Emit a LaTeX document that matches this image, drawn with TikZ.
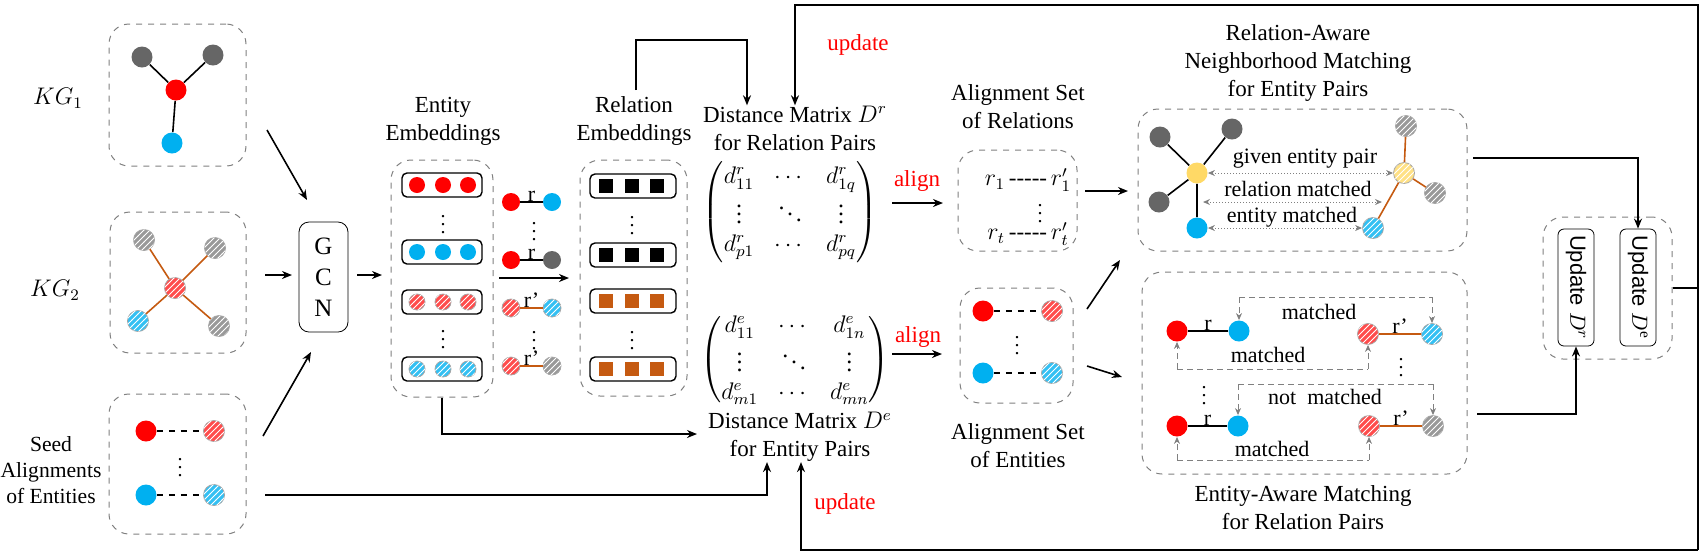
\documentclass[tikz,border=0pt]{standalone}
\usepackage{amsmath}
\usepackage{fontspec}
\setmainfont{Liberation Serif}
\newfontfamily\sansf{Liberation Sans}
\usetikzlibrary{arrows.meta,patterns,calc}
\definecolor{cred}{HTML}{FF0000}
\definecolor{cblue}{HTML}{00B0F0}
\definecolor{cgray}{HTML}{666666}
\definecolor{cyel}{HTML}{FFD966}
\definecolor{cbrown}{HTML}{C55A11}
\tikzset{
  en/.style={circle,inner sep=0pt,minimum size=#1},
  R/.style={en=#1,fill=cred}, R/.default=10.5pt,
  B/.style={en=#1,fill=cblue}, B/.default=10.5pt,
  G/.style={en=#1,fill=cgray}, G/.default=10.5pt,
  Y/.style={en=#1,fill=cyel}, Y/.default=10.5pt,
  hat/.style={draw=gray!70,line width=0.4pt,postaction={pattern=north east lines,pattern color=white}},
  hR/.style={en=#1,fill=cred!70,hat}, hR/.default=10.5pt,
  hB/.style={en=#1,fill=cblue!80,hat}, hB/.default=10.5pt,
  hG/.style={en=#1,fill=gray!80,hat}, hG/.default=10.5pt,
  hY/.style={en=#1,fill=cyel!80,hat}, hY/.default=10.5pt,
  dbox/.style={draw=gray,dashed,rounded corners=10pt,line width=0.5pt},
  bar/.style={draw,rounded corners=2.5pt,line width=0.7pt,minimum height=12pt},
  sq/.style={inner sep=0pt,minimum size=7pt},
  arr/.style={line width=0.8pt,-{Stealth[length=5pt,width=4pt]}},
  ln/.style={line width=0.8pt},
  gln/.style={gray,densely dashed,line width=0.5pt},
  garr/.style={gln,-{Stealth[length=3.5pt,width=3pt]}},
  gdarr/.style={gray,densely dotted,line width=0.5pt,{Stealth[length=3.5pt,width=3pt]}-{Stealth[length=3.5pt,width=3pt]}},
  lbl/.style={align=center,text=black,inner sep=0pt,font=\fontsize{11.5}{14}\selectfont},
  slbl/.style={align=center,text=black,inner sep=1pt,font=\fontsize{11}{12}\selectfont},
  upd/.style={text=cred,inner sep=0pt,font=\fontsize{11.5}{14}\selectfont},
  ubx/.style={draw,rounded corners=3pt,minimum width=58.5pt,minimum height=18pt,inner sep=1pt,rotate=-90,font=\sansf\fontsize{11}{13}\selectfont}
}
\begin{document}
\begin{tikzpicture}[x=0.5pt,y=-0.5pt]
\useasboundingbox (0,0) rectangle (1704,554);

% ---- left inputs
\node[lbl] (kg1) at (58,98) {$KG_1$};
\node[lbl] (kg2) at (55,290) {$KG_2$};
\node[lbl,font=\fontsize{10.8}{13}\selectfont] (seed) at (51,470) {Seed\\Alignments\\of Entities};

\node (b1) [dbox,minimum width=68.5pt,minimum height=71pt] at (177.5,95) {};
\node (g1a) [G] at (142,57) {};
\node (g1b) [G] at (213,55) {};
\node (r1) [R] at (176,90) {};
\node (bl1) [B] at (172,143) {};
\draw[ln] (g1a) -- (r1) -- (g1b) (r1) -- (bl1);

\node (b2) [dbox,minimum width=68pt,minimum height=70.5pt] at (178,282.5) {};
\node (r2) [hR] at (175,288) {};
\node (g2a) [hG] at (144,240) {};
\node (g2b) [hG] at (215,248) {};
\node (g2c) [hG] at (219,326) {};
\node (bl2) [hB] at (138,321) {};
\draw[cbrown,line width=0.8pt] (g2a) -- (r2) -- (g2b) (bl2) -- (r2) -- (g2c);

\node (b3) [dbox,minimum width=68.5pt,minimum height=70pt] at (177.5,464) {};
\node (s1) [R] at (146,431) {};
\node (s2) [hR] at (214,431) {};
\node (s3) [B] at (146,495) {};
\node (s4) [hB] at (214,495) {};
\node (sd) at (180,462) {$\vdots$};
\draw[dashed,line width=0.8pt] (s1) -- (s2) (s3) -- (s4);

% ---- GCN
\node (gcn) [draw,rounded corners=5pt,minimum width=24.5pt,minimum height=55pt,lbl,font=\fontsize{12.5}{15.5}\selectfont] at (323.5,277) {G\\C\\N};
\coordinate (a1) at (267,130);
\coordinate (a2) at (265,275);
\coordinate (a3) at (263,436);
\draw[arr] (a1) -- (307,200);
\draw[arr] (a2) -- (292,275);
\draw[arr] (a3) -- (311,352);

% ---- entity embeddings
\node[lbl] (eel) at (443,121) {Entity\\Embeddings};
\node (ebox) [dbox,minimum width=51pt,minimum height=118.5pt] at (442,278.5) {};
\coordinate (g0) at (357,275);
\draw[arr] (g0) -- (382,275);
\foreach \y/\s in {185/R,252/B,302/hR,369/hB}{
  \node[bar,minimum width=40pt] at (442,\y) {};
  \foreach \x in {417,443,468} \node[\s=8pt] at (\x,\y) {};
}
\node at (443,219) {$\vdots$};
\node at (443,334) {$\vdots$};

% ---- relation triples
\node (p1) [R=9pt] at (511,202) {};
\node (p2) [B=9pt] at (552,202) {};
\node (p3) [R=9pt] at (511,260) {};
\node (p4) [G=9pt] at (552,260) {};
\node (p5) [hR=9pt] at (511,308) {};
\node (p6) [hB=9pt] at (552,308) {};
\node (p7) [hR=9pt] at (511,366) {};
\node (p8) [hG=9pt] at (552,366) {};
\draw[ln] (p1) -- node[above=-1pt,slbl]{r} (p2);
\draw[ln] (p3) -- node[above=-1pt,slbl]{r} (p4);
\draw[cbrown,line width=0.8pt] (p5) -- node[above=-1pt,slbl]{r'} (p6);
\draw[cbrown,line width=0.8pt] (p7) -- node[above=-1pt,slbl]{r'} (p8);
\node at (534,226) {$\vdots$};
\node at (534,335) {$\vdots$};

% ---- relation embeddings
\node[lbl] (rel) at (634,121) {Relation\\Embeddings};
\node (rbox) [dbox,minimum width=53.5pt,minimum height=118pt] at (633.5,278) {};
\coordinate (m1) at (499,278);
\draw[arr] (m1) -- (569,278);
\foreach \y/\c in {186/black,255/black,301/cbrown,369/cbrown}{
  \node[bar,minimum width=43pt] at (633,\y) {};
  \foreach \x in {606,632,657} \node[sq,fill=\c] at (\x,\y) {};
}
\node at (632,220) {$\vdots$};
\node at (632,335) {$\vdots$};

% ---- distance matrices
\node[lbl] (drl) at (795,128) {Distance Matrix $D^r$\\for Relation Pairs};
\node[lbl,font=\fontsize{12}{14}\selectfont] (mr) at (790,212) {$\begin{pmatrix} d^r_{11} & \cdots & d^r_{1q}\\ \vdots & \ddots & \vdots\\ d^r_{p1} & \cdots & d^r_{pq}\end{pmatrix}$};
\node[lbl,font=\fontsize{12}{14}\selectfont] (me) at (795,360) {$\begin{pmatrix} d^e_{11} & \cdots & d^e_{1n}\\ \vdots & \ddots & \vdots\\ d^e_{m1} & \cdots & d^e_{mn}\end{pmatrix}$};
\node[lbl] (del) at (800,437) {Distance Matrix $D^e$\\for Entity Pairs};

\coordinate (t0) at (636,90);
\coordinate (t1) at (636,40);
\coordinate (t2) at (747,40);
\draw[arr] (t0) -- (t1) -- (t2) -- (t2 |- drl.north);
\coordinate (t3) at (442,434);
\draw[arr] (ebox.south) -- (t3) -- (697,434);
\coordinate (t4) at (265,495);
\coordinate (t5) at (767,495);
\draw[arr] (t4) -- (t5) -- (t5 |- del.south);

% ---- alignment sets
\node[lbl] (arl) at (1018,107) {Alignment Set\\of Relations};
\node (arbox) [dbox,minimum width=59.5pt,minimum height=50.5pt] at (1017.5,200.5) {};
\node[lbl] (ar1) at (1028,180) {$r_1$\,{-}{-}{-}{-}{-}\,$r'_1$};
\node at (1040,208) {$\vdots$};
\node[lbl] (ar2) at (1028,234) {$r_t$\,{-}{-}{-}{-}{-}\,$r'_t$};

\node (aebox) [dbox,minimum width=56.5pt,minimum height=57.5pt] at (1016.5,345.5) {};
\node (x1) [R] at (983,311) {};
\node (x2) [hR] at (1052,311) {};
\node (x3) [B] at (983,373) {};
\node (x4) [hB] at (1052,373) {};
\draw[dashed,line width=0.8pt] (x1) -- (x2) (x3) -- (x4);
\node at (1017,340) {$\vdots$};
\node[lbl] (ael) at (1018,446) {Alignment Set\\of Entities};

\coordinate (al1) at (892,203);
\coordinate (al2) at (892,354);
\draw[arr] (al1) -- (943,203);
\draw[arr] (al2) -- (942,354);
\node[upd] at (917,181) {align};
\node[upd] at (918,337) {align};

% ---- relation-aware neighborhood matching
\node[lbl] (nl) at (1298,63) {Relation-Aware\\Neighborhood Matching\\for Entity Pairs};
\node (nbox) [dbox,minimum width=164.5pt,minimum height=71pt] at (1302.5,180) {};
\node (n1) [G] at (1160,137) {};
\node (n2) [G] at (1232,129) {};
\node (n3) [G] at (1159,202) {};
\node (ny) [Y] at (1197,173) {};
\node (nb) [B] at (1197,228) {};
\node (my) [hY] at (1404,173) {};
\node (mg1) [hG] at (1406,126) {};
\node (mg2) [hG] at (1435,193) {};
\node (mb) [hB] at (1373,228) {};
\draw[ln] (n1) -- (ny) -- (n2) (n3) -- (ny) -- (nb);
\draw[cbrown,line width=0.8pt] (mg1) -- (my) -- (mg2) (my) -- (mb);
\draw[gdarr] (ny) -- (my);
\node[slbl] at (1305,159) {given entity pair};
\coordinate (rm1) at (1203,202);
\draw[gdarr] (rm1) -- (1382,202);
\node[slbl] at (1298,189) {relation matched};
\draw[gdarr] (nb) -- (mb);
\node[slbl] at (1292,217) {entity matched};

\coordinate (k1) at (1085,191);
\draw[arr] (k1) -- (1128,191);
\coordinate (k2) at (1087,309);
\draw[arr] (k2) -- (1120,260);
\coordinate (k3) at (1087,366);
\draw[arr] (k3) -- (1122,377);

% ---- entity-aware matching
\node (mbox) [dbox,minimum width=162.5pt,minimum height=101pt] at (1304.5,373) {};
\node[lbl] (ml) at (1303,508) {Entity-Aware Matching\\for Relation Pairs};
\node (u1) [R] at (1177,331) {};
\node (u2) [B] at (1239,331) {};
\node (u3) [hR] at (1368,334) {};
\node (u4) [hB] at (1432,334) {};
\draw[ln] (u1) -- node[above=-1pt,slbl]{r} (u2);
\draw[cbrown,line width=0.8pt] (u3) -- node[above=-1pt,slbl]{r'} (u4);
\draw[garr] (u2.north |- 0,297) -- (u2.north);
\draw[gln] (u2.north |- 0,297) -- (u4.north |- 0,297);
\draw[garr] (u4.north |- 0,297) -- (u4.north);
\node[slbl] at (1319,312) {matched};
\draw[garr] (u1.south |- 0,369) -- (u1.south);
\draw[gln] (u1.south |- 0,369) -- (u3.south |- 0,369);
\draw[garr] (u3.south |- 0,369) -- (u3.south);
\node[slbl] at (1268,355) {matched};
\node at (1401,362) {$\vdots$};
\node at (1204,390) {$\vdots$};

\node (v1) [R] at (1177,426) {};
\node (v2) [B] at (1238,426) {};
\node (v3) [hR] at (1369,426) {};
\node (v4) [hG] at (1433,426) {};
\draw[ln] (v1) -- node[above=-1pt,slbl]{r} (v2);
\draw[cbrown,line width=0.8pt] (v3) -- node[above=-1pt,slbl]{r'} (v4);
\draw[garr] (v2.north |- 0,384) -- (v2.north);
\draw[gln] (v2.north |- 0,384) -- (v4.north |- 0,384);
\draw[garr] (v4.north |- 0,384) -- (v4.north);
\node[slbl] at (1325,397) {not\ \ matched};
\draw[garr] (v1.south |- 0,460) -- (v1.south);
\draw[gln] (v1.south |- 0,460) -- (v3.south |- 0,460);
\draw[garr] (v3.south |- 0,460) -- (v3.south);
\node[slbl] at (1272,449) {matched};

% ---- update block
\node (ubox) [dbox,minimum width=64.5pt,minimum height=71pt] at (1607.5,288) {};
\node (ur) [ubx] at (1576,287.5) {Update $D^r$};
\node (ue) [ubx] at (1638,287.5) {Update $D^{\mathrm{e}}$};
\coordinate (w1) at (1473,158);
\draw[arr] (w1) -| (ue.west);
\coordinate (w2) at (1477,414);
\draw[arr] (w2) -| (ur.east);

% ---- outer update loop
\coordinate (c1) at (1698,5);
\coordinate (c2) at (1698,550);
\coordinate (c4) at (795,5);
\coordinate (c5) at (801,550);
\draw[ln] (ubox.east) -- (ubox.east -| c1);
\draw[arr] (c2) -- (c1) -- (c4) -- (c4 |- drl.north);
\draw[arr] (c2) -- (c5) -- (c5 |- del.south);
\node[upd] at (858,45) {update};
\node[upd] at (845,504) {update};
\end{tikzpicture}
\end{document}
